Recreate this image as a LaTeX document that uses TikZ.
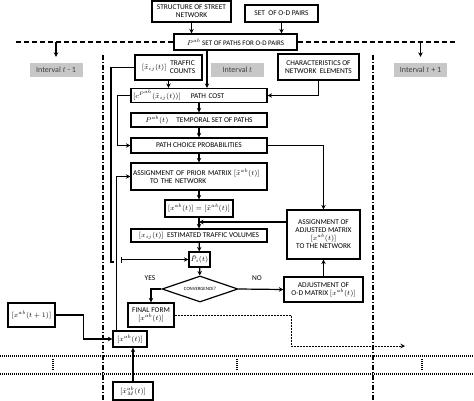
\documentclass[tikz,border=0pt]{standalone}
\usepackage{fontspec}
\setmainfont{Carlito}
\usetikzlibrary{arrows.meta,shapes.geometric}

\newcommand*{\xleft}{103}
\newcommand*{\xright}{373}
\newcommand*{\ytop}{55}
\newcommand*{\ybot}{400}

\begin{document}
\begin{tikzpicture}
[
	x=1pt,y=-1pt,
	>={Stealth[length=4.5pt,width=4.5pt]},
	flowbox/.style={draw,line width=1.2pt,fill=white,inner sep=1pt,align=center,font=\fontsize{7.4}{8}\selectfont},
	intervalbox/.style={fill=black!22,text=black!75,inner sep=1pt,minimum height=14pt,minimum width=53pt,font=\fontsize{8}{9}\selectfont},
	link/.style={->,line width=1.2pt},
	timeline/.style={line width=1.2pt,dash pattern=on 5pt off 2pt on 1pt off 2pt},
	stripe/.style={line width=1.5pt,dash pattern=on 1pt off 1pt},
	periodline/.style={line width=1.5pt,dash pattern=on 5pt off 3pt},
	finalline/.style={->,line width=0.8pt,dash pattern=on 2pt off 1pt}
]

	\useasboundingbox (0,0) rectangle (474,400);

	% time intervals
	\foreach \x in {\xleft,\xright} {
		\draw[timeline] (\x,\ytop) -- (\x,\ybot);
	}
	\foreach \y in {356,374} {
		\draw[stripe] (0,\y) -- (474,\y);
	}
	\foreach \x in {53,237,422} {
		\draw[stripe] (\x,359) -- (\x,371);
	}
	\node[intervalbox] at (56,70) (int1) {Interval $t$ - 1};
	\node[intervalbox] at (237.5,70) (int2) {Interval $t$};
	\node[intervalbox] at (420.5,70) (int3) {Interval $t$ + 1};

	% inputs
	\node[flowbox,minimum width=79pt,minimum height=21pt] at (191.5,11.5) (street) {STRUCTURE OF STREET\\NETWORK};
	\node[flowbox,minimum width=73pt,minimum height=17pt] at (281.5,13.5) (odpairs) {SET\ \ OF O-D PAIRS};
	\node[flowbox,minimum width=123pt,minimum height=16pt,font=\fontsize{7}{8}\selectfont] at (235.5,42) (paths) {$P^{ab}$ SET OF PATHS FOR O-D PAIRS};
	\node[flowbox,minimum width=67pt,minimum height=25pt] at (168.5,67.5) (counts)
		{$[\tilde{x}_{ij}(t)]$\ \ \begin{tabular}{@{}c@{}}TRAFFIC\\COUNTS\end{tabular}};
	\node[flowbox,minimum width=81pt,minimum height=26pt] at (318.5,67) (chars) {CHARACTERISTICS OF\\NETWORK\ \ ELEMENTS};

	% main chain
	\node[flowbox,minimum width=136pt,minimum height=14pt,text width=132pt,align=left] at (199,95.5) (cost)
		{$[c^{P^{ab}}(\tilde{x}_{ij}(t))]$\hspace{10pt}PATH COST};
	\node[flowbox,minimum width=136pt,minimum height=14pt] at (199,120) (temporal) {$P^{ab}(t)$\hspace{8pt}TEMPORAL SET OF PATHS};
	\node[flowbox,minimum width=136pt,minimum height=15pt] at (199,145.5) (choice) {PATH CHOICE PROBABILITIES};
	\node[flowbox,minimum width=136pt,minimum height=27pt,text width=132pt,align=left] at (199,176.5) (prior)
		{ASSIGNMENT OF PRIOR MATRIX $[\tilde{x}^{ab}(t)]$\\\hspace*{17pt}TO THE NETWORK};
	\node[flowbox,minimum width=68pt,minimum height=17pt] at (199,208.5) (equal) {$[x^{ab}(t)]=[\tilde{x}^{ab}(t)]$};
	\node[flowbox,minimum width=136pt,minimum height=13pt] at (199,235.5) (est) {$[x_{ij}(t)]$\ \ ESTIMATED TRAFFIC VOLUMES};
	\node[flowbox,minimum width=21pt,minimum height=15pt] at (199.5,259.5) (Pi) {$\tilde{P}_i(t)$};
	\node[flowbox,diamond,aspect=2.9,minimum width=76pt,minimum height=26pt,inner sep=0pt,font=\fontsize{4.8}{5.5}\selectfont] at (200,289) (conv) {CONVERGENCE?};
	\node[flowbox,minimum width=46pt,minimum height=24pt] at (151,315) (final) {FINAL FORM\\$[x^{ab}(t)]$};
	\node[flowbox,minimum width=79pt,minimum height=25pt] at (323.5,289.5) (adjust) {ADJUSTMENT OF\\O-D MATRIX $[x^{ab}(t)]$};
	\node[flowbox,minimum width=73pt,minimum height=49pt] at (323.5,234.5) (adjassign)
		{ASSIGNMENT OF\\ADJUSTED MATRIX\\$[x^{ab}(t)]$\\TO THE NETWORK};

	% next interval
	\node[flowbox,minimum width=47pt,minimum height=24pt] at (31.5,315) (next) {$[x^{ab}(t+1)]$};
	\node[flowbox,minimum width=34pt,minimum height=16pt] at (130,339) (cur) {$[x^{ab}(t)]$};
	\node[flowbox,minimum width=40pt,minimum height=18pt] at (133,391) (meas) {$[\hat{x}^{ab}_{M}(t)]$};

	\node[font=\fontsize{7.4}{8}\selectfont] at (150,278) (yes) {YES};
	\node[font=\fontsize{7.4}{8}\selectfont] at (257,278) (no) {NO};

	% period line
	\coordinate (dashL) at (15,42);
	\coordinate (dashR) at (457,42);
	\draw[periodline] (paths.west) -- (dashL);
	\draw[periodline] (paths.east) -- (dashR);
	\draw[link] (int1.north |- paths.west) -- ([yshift=6pt]int1.north);
	\draw[link] (int3.north |- paths.east) -- ([yshift=6pt]int3.north);

	% connectors
	\draw[link] (street.south) -- (street.south |- paths.north);
	\draw[link] (odpairs.south) -- (odpairs.south |- paths.north);
	\draw[link] ([xshift=8pt]cost.north |- paths.south) -- ([xshift=8pt]cost.north);
	\draw[link] (counts.south) -- (counts.south |- cost.north);
	\draw[link] (chars.south) |- (cost.east);
	\draw[link] (cost) -- (temporal);
	\draw[link] (temporal) -- (choice);
	\draw[link] (choice) -- (prior);
	\draw[link] (prior) -- (equal);
	\draw[link] (equal) -- (est);
	\draw[link] (est) -- (Pi);
	\draw[link] (Pi) -- (conv);
	\draw[link] (conv.west) -| (final.north);
	\draw[link] (conv.east) -- (adjust.west);
	\draw[link] (adjust) -- (adjassign);
	\draw[link] (choice.east) -| (adjassign.north);
	\coordinate (merge) at (199,222);
	\draw[link] (adjassign.west |- merge) -- (merge);

	% loops
	\draw[link] (cost.west) -- ++(-13,0) |- (choice.west);
	\coordinate (hook) at (111,262);
	\draw[line width=1.2pt] (counts.west) -| (hook) -- ++(3,0);
	\coordinate (tee) at (121,259.5);
	\draw[link,{Bar[width=6pt]}->] (tee) -- (Pi.west);
	\draw[link] (next.east) -- ++(28,0) |- (cur.west);
	\draw[link] (meas.north) -- (meas.north |- cur.south);
	\draw[link] ([xshift=4pt]cur.north west) |- (prior.west);

	% final form
	\coordinate (dashbend) at (291,346);
	\coordinate (dashend) at (405,346);
	\draw[finalline] (final.east) -| (dashbend) -- (dashend);

\end{tikzpicture}
\end{document}
